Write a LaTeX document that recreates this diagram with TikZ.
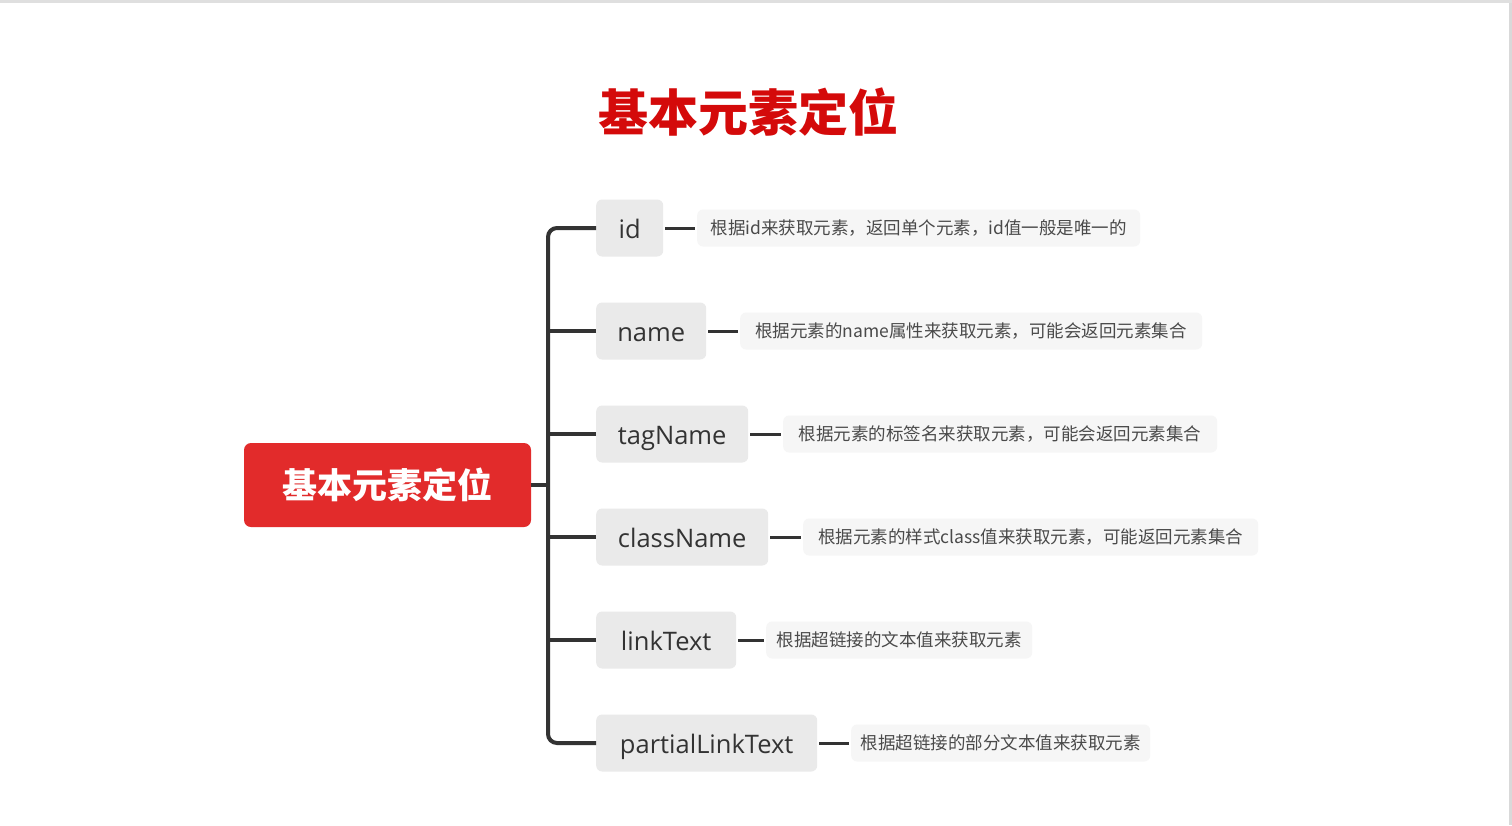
\documentclass[tikz,border=0pt]{standalone}
\usepackage{fontspec}
\setmainfont{Open Sans}
\newfontfamily\cjk{Noto Sans CJK SC}
\definecolor{titlered}{HTML}{D40A0A}
\definecolor{rootred}{HTML}{E22B2B}
\definecolor{childgray}{HTML}{EAEAEA}
\definecolor{descgray}{HTML}{F6F6F6}
\definecolor{linedark}{HTML}{333333}
\definecolor{desctext}{HTML}{4A4A4A}
\definecolor{childtext}{HTML}{333333}
\tikzset{
  rootbox/.style={fill=rootred, rounded corners=7pt, minimum width=287pt, minimum height=84pt,
    inner sep=0pt, text=white, font=\cjk\bfseries\fontsize{35}{40}\selectfont},
  childbox/.style={fill=childgray, rounded corners=6pt, minimum height=57pt, inner xsep=0pt,
    inner ysep=0pt, anchor=west, text=childtext, text height=20pt, text depth=0pt,
    font=\fontsize{25.5}{30}\selectfont},
  descbox/.style={fill=descgray, rounded corners=6pt, minimum height=37pt, inner xsep=0pt,
    inner ysep=0pt, anchor=west, text=desctext, font=\cjk\fontsize{17.5}{20}\selectfont},
  trunk/.style={draw=linedark, line width=4pt, rounded corners=9pt},
  link/.style={draw=linedark, line width=3pt, shorten <=2pt, shorten >=2pt},
  titletext/.style={text=titlered, font=\cjk\bfseries\fontsize{50}{56}\selectfont, inner sep=0pt}
}
\begin{document}
\begin{tikzpicture}[x=1pt,y=-1pt]
\useasboundingbox (0,0) rectangle (1512,825);
\fill[white] (0,0) rectangle (1512,825);
\fill[gray!25] (0,0) rectangle (1512,3);
\fill[gray!30] (1509,3) rectangle (1512,825);

\node[titletext] (title) at (748,112) {基本元素定位};

\node[rootbox] (root) at (387.5,485) {基本元素定位};

\node[childbox, minimum width=67pt] (c1) at (596,228) {id};
\node[childbox, minimum width=110pt] (c2) at (596,331) {name};
\node[childbox, minimum width=152pt] (c3) at (596,434) {tagName};
\node[childbox, minimum width=172pt] (c4) at (596,537) {className};
\node[childbox, minimum width=140pt] (c5) at (596,640) {linkText};
\node[childbox, minimum width=221pt] (c6) at (596,743) {partialLinkText};

\node[descbox, minimum width=443pt] (d1) at (697,228) {根据id来获取元素，返回单个元素，id值一般是唯一的};
\node[descbox, minimum width=462pt] (d2) at (740,331) {根据元素的name属性来获取元素，可能会返回元素集合};
\node[descbox, minimum width=434pt] (d3) at (783,434) {根据元素的标签名来获取元素，可能会返回元素集合};
\node[descbox, minimum width=455pt] (d4) at (803,537) {根据元素的样式class值来获取元素，可能返回元素集合};
\node[descbox, minimum width=266pt] (d5) at (766,640) {根据超链接的文本值来获取元素};
\node[descbox, minimum width=299pt] (d6) at (851,743) {根据超链接的部分文本值来获取元素};

\coordinate (tr) at (548,485);
\draw[trunk, rounded corners=0pt] (root.east) -- (tr);
\draw[trunk] (c1.west) -| (tr) |- (c6.west);
\foreach \c in {c2,c3,c4,c5} {
  \draw[trunk, rounded corners=0pt] (\c.west) -- (\c.west -| tr);
}
\foreach \i in {1,...,6} {
  \draw[link] (c\i.east) -- (d\i.west);
}
\end{tikzpicture}
\end{document}
